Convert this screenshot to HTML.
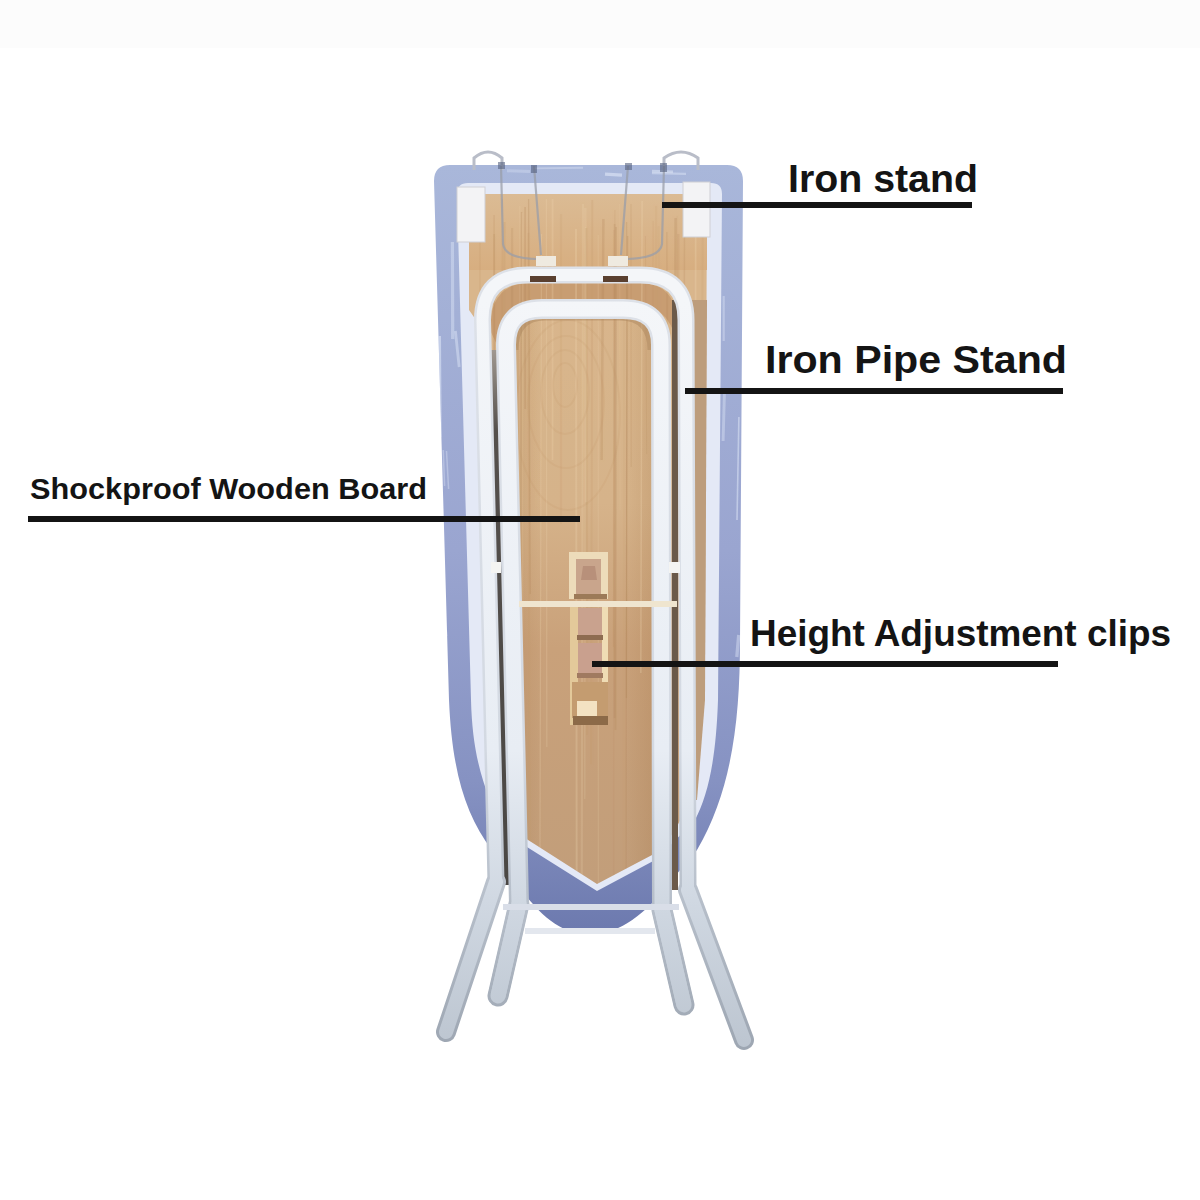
<!DOCTYPE html>
<html><head><meta charset="utf-8">
<style>
html,body{margin:0;padding:0;background:#fff;width:1200px;height:1200px;overflow:hidden}
svg{display:block}
text{font-family:"Liberation Sans",sans-serif;font-weight:bold;fill:#141414}
</style></head>
<body>
<svg width="1200" height="1200" viewBox="0 0 1200 1200">
<defs>
  <linearGradient id="woodG" gradientUnits="userSpaceOnUse" x1="0" y1="300" x2="0" y2="880">
    <stop offset="0" stop-color="#d9b68c"/>
    <stop offset="0.35" stop-color="#d6b38a"/>
    <stop offset="0.6" stop-color="#c9a17a"/>
    <stop offset="1" stop-color="#c29e7a"/>
  </linearGradient>
  <linearGradient id="woodEdge" x1="0" y1="0" x2="1" y2="0">
    <stop offset="0" stop-color="#9a6a3a" stop-opacity="0.18"/>
    <stop offset="0.2" stop-color="#9a6a3a" stop-opacity="0"/>
    <stop offset="0.8" stop-color="#9a6a3a" stop-opacity="0"/>
    <stop offset="1" stop-color="#9a6a3a" stop-opacity="0.18"/>
  </linearGradient>
  <linearGradient id="woodTop" x1="0" y1="0" x2="0" y2="1">
    <stop offset="0" stop-color="#dbbb94"/>
    <stop offset="1" stop-color="#d7ae80"/>
  </linearGradient>
  <linearGradient id="pipeG" gradientUnits="userSpaceOnUse" x1="0" y1="300" x2="0" y2="1050">
    <stop offset="0" stop-color="#f4f6f9"/>
    <stop offset="0.6" stop-color="#e8edf4"/>
    <stop offset="0.8" stop-color="#d0d8e2"/>
    <stop offset="1" stop-color="#bcc5d0"/>
  </linearGradient>
  <linearGradient id="pipeEdge" gradientUnits="userSpaceOnUse" x1="0" y1="300" x2="0" y2="1050">
    <stop offset="0" stop-color="#dde1e8"/>
    <stop offset="0.6" stop-color="#d3d9e2"/>
    <stop offset="0.78" stop-color="#b9c1cc"/>
    <stop offset="1" stop-color="#9da6b2"/>
  </linearGradient>
  <linearGradient id="blueG" gradientUnits="userSpaceOnUse" x1="0" y1="165" x2="0" y2="935">
    <stop offset="0" stop-color="#a9b7da"/>
    <stop offset="0.5" stop-color="#9aa5d0"/>
    <stop offset="0.8" stop-color="#8692c2"/>
    <stop offset="1" stop-color="#6c79ae"/>
  </linearGradient>
  <linearGradient id="darkL" gradientUnits="userSpaceOnUse" x1="0" y1="350" x2="0" y2="885">
    <stop offset="0" stop-color="#a09890"/>
    <stop offset="0.15" stop-color="#55504c"/>
    <stop offset="1" stop-color="#4a4744"/>
  </linearGradient>
  <clipPath id="clipBlue"><path d="M434,181 Q434,165 450,165 L727,165 Q743,165 743,181 L740,640 C740,720 732,790 697,850 L665,888 C640,920 615,934 590,934 C565,934 545,922 520,888 L492,850 C465,815 452,770 449,700 Z"/></clipPath>
  <clipPath id="clipWood"><path d="M469,194 L707,194 L705,660 C704,760 690,830 652,855 L597,884 L525,838 C510,820 500,800 497,760 L490,340 L469,310 Z"/></clipPath>
</defs>
<rect width="1200" height="1200" fill="#ffffff"/>
<rect x="0" y="0" width="1200" height="48" fill="#fcfcfc"/>

<!-- blue fabric -->
<path d="M434,181 Q434,165 450,165 L727,165 Q743,165 743,181 L740,640 C740,720 732,790 697,850 L665,888 C640,920 615,934 590,934 C565,934 545,922 520,888 L492,850 C465,815 452,770 449,700 Z" fill="url(#blueG)"/>
<g id="streaks" clip-path="url(#clipBlue)"><path d="M724.5,390 L723.1,441" stroke="#dde5f6" stroke-width="2.9" opacity="0.43"/><path d="M605,174.1 L622,175.1" stroke="#dde5f6" stroke-width="3.1" opacity="0.64"/><path d="M439.5,336 L440.2,437" stroke="#dde5f6" stroke-width="3.0" opacity="0.59"/><path d="M652,171.1 L673,171.9" stroke="#dde5f6" stroke-width="2.6" opacity="0.55"/><path d="M443.0,600 L446.6,636" stroke="#dde5f6" stroke-width="2.0" opacity="0.31"/><path d="M452.4,242 L452.7,339" stroke="#dde5f6" stroke-width="3.2" opacity="0.46"/><path d="M738.9,417 L737.0,520" stroke="#dde5f6" stroke-width="1.6" opacity="0.55"/><path d="M455.4,331 L459.2,367" stroke="#dde5f6" stroke-width="2.8" opacity="0.49"/><path d="M443.2,450 L444.6,486" stroke="#dde5f6" stroke-width="1.5" opacity="0.39"/><path d="M438.3,453 L440.4,561" stroke="#dde5f6" stroke-width="2.0" opacity="0.46"/><path d="M652,173.2 L686,173.9" stroke="#dde5f6" stroke-width="2.3" opacity="0.48"/><path d="M507,170.8 L530,171.5" stroke="#dde5f6" stroke-width="3.0" opacity="0.35"/><path d="M738.7,635 L736.8,657" stroke="#dde5f6" stroke-width="3.3" opacity="0.45"/><path d="M439.5,621 L442.2,719" stroke="#dde5f6" stroke-width="2.1" opacity="0.38"/><path d="M723.7,296 L723.7,341" stroke="#dde5f6" stroke-width="2.2" opacity="0.42"/><path d="M533,168.4 L583,167.8" stroke="#dde5f6" stroke-width="1.9" opacity="0.42"/><path d="M446.5,451 L448.6,489" stroke="#dde5f6" stroke-width="1.5" opacity="0.39"/><path d="M440.6,493 L441.8,549" stroke="#dde5f6" stroke-width="2.8" opacity="0.33"/></g>
<!-- white rim -->
<path d="M457,194 Q457,183 468,183 L711,183 Q722,183 722,194 L718,700 C716,760 708,795 695,820 L657,859 L597,891 L519,842 L490,800 C478,770 472,740 471,700 Z" fill="#e4e9f6"/>
<!-- wood board -->
<path d="M469,194 L707,194 L705,660 C704,760 690,830 652,855 L597,884 L525,838 C510,820 500,800 497,760 L490,340 L469,310 Z" fill="url(#woodG)"/>
<rect x="515" y="300" width="137" height="600" fill="url(#woodEdge)" clip-path="url(#clipWood)"/>
<!-- top wood lighter -->
<rect x="469" y="194" width="238" height="76" fill="url(#woodTop)"/>
<!-- darker wood strip between pipes at top -->
<path d="M490,330 Q490,283 530,283 L640,283 Q678,283 678,330 L678,345 Q668,300 623,300 L541,300 Q498,300 497,345 Z" fill="#c89d72"/>

<g id="grain" clip-path="url(#clipWood)"><path d="M546.4,199 L546.8,747" stroke="#f0d8b4" stroke-width="1.2" opacity="0.22"/><path d="M684.7,213 L682.9,569" stroke="#a87c50" stroke-width="1.3" opacity="0.12"/><path d="M603.4,219 L601.6,460" stroke="#a87c50" stroke-width="2.5" opacity="0.21"/><path d="M522.2,213 L522.4,764" stroke="#f0d8b4" stroke-width="1.9" opacity="0.12"/><path d="M631.0,204 L631.2,467" stroke="#b5875a" stroke-width="1.2" opacity="0.20"/><path d="M616.1,227 L615.5,730" stroke="#a87c50" stroke-width="1.8" opacity="0.20"/><path d="M528.6,199 L530.1,594" stroke="#a87c50" stroke-width="1.3" opacity="0.24"/><path d="M642.1,201 L640.8,673" stroke="#f0d8b4" stroke-width="1.5" opacity="0.28"/><path d="M585.4,227 L584.8,799" stroke="#f0d8b4" stroke-width="1.1" opacity="0.22"/><path d="M552.6,199 L552.5,460" stroke="#f0d8b4" stroke-width="1.8" opacity="0.24"/><path d="M626.7,222 L625.9,1067" stroke="#a87c50" stroke-width="1.1" opacity="0.23"/><path d="M561.0,214 L561.0,524" stroke="#b5875a" stroke-width="2.1" opacity="0.10"/><path d="M521.5,212 L519.8,1008" stroke="#a87c50" stroke-width="1.5" opacity="0.23"/><path d="M576.0,229 L576.8,990" stroke="#f0d8b4" stroke-width="1.9" opacity="0.26"/><path d="M702.8,205 L701.7,459" stroke="#c39a6c" stroke-width="2.1" opacity="0.17"/><path d="M525.1,207 L525.2,409" stroke="#a87c50" stroke-width="1.8" opacity="0.21"/><path d="M613.9,230 L613.7,1048" stroke="#b5875a" stroke-width="1.5" opacity="0.12"/><path d="M675.6,218 L674.0,677" stroke="#a87c50" stroke-width="2.5" opacity="0.22"/><path d="M619.7,204 L620.1,510" stroke="#f0d8b4" stroke-width="1.1" opacity="0.11"/><path d="M494.2,234 L495.7,833" stroke="#b5875a" stroke-width="1.9" opacity="0.20"/><path d="M614.9,210 L613.4,647" stroke="#b5875a" stroke-width="1.2" opacity="0.15"/><path d="M585.2,208 L586.1,502" stroke="#f0d8b4" stroke-width="2.6" opacity="0.19"/><path d="M583.0,204 L581.5,1023" stroke="#f0d8b4" stroke-width="2.1" opacity="0.19"/><path d="M598.2,235 L598.3,996" stroke="#f0d8b4" stroke-width="1.0" opacity="0.20"/><path d="M684.3,218 L684.8,744" stroke="#c39a6c" stroke-width="1.6" opacity="0.14"/><path d="M656.1,206 L654.9,666" stroke="#c39a6c" stroke-width="2.2" opacity="0.14"/><path d="M586.3,228 L587.1,735" stroke="#c39a6c" stroke-width="2.2" opacity="0.28"/><path d="M695.7,236 L694.1,1056" stroke="#f0d8b4" stroke-width="1.7" opacity="0.27"/><path d="M494.1,215 L494.0,1056" stroke="#b5875a" stroke-width="1.8" opacity="0.16"/><path d="M624.1,222 L624.0,1014" stroke="#c39a6c" stroke-width="2.3" opacity="0.12"/><path d="M512.1,228 L512.0,1060" stroke="#a87c50" stroke-width="2.3" opacity="0.16"/><path d="M645.4,236 L646.7,454" stroke="#a87c50" stroke-width="1.1" opacity="0.13"/><path d="M504.5,222 L502.6,650" stroke="#c39a6c" stroke-width="2.3" opacity="0.28"/><path d="M658.6,226 L660.0,516" stroke="#c39a6c" stroke-width="2.2" opacity="0.12"/><path d="M519.8,206 L520.0,787" stroke="#f0d8b4" stroke-width="1.4" opacity="0.15"/><path d="M666.9,232 L668.2,863" stroke="#a87c50" stroke-width="1.1" opacity="0.23"/><path d="M677.2,216 L677.7,984" stroke="#c39a6c" stroke-width="1.2" opacity="0.13"/><path d="M653.1,221 L652.4,499" stroke="#b5875a" stroke-width="1.2" opacity="0.13"/><path d="M592.3,200 L591.1,764" stroke="#c39a6c" stroke-width="1.9" opacity="0.24"/><path d="M480.0,197 L479.7,978" stroke="#b5875a" stroke-width="1.2" opacity="0.18"/><path d="M614.6,224 L614.6,718" stroke="#a87c50" stroke-width="1.8" opacity="0.19"/><path d="M528.4,233 L529.8,1033" stroke="#c39a6c" stroke-width="1.8" opacity="0.26"/><path d="M502.4,199 L501.2,555" stroke="#b5875a" stroke-width="1.2" opacity="0.18"/><path d="M541.5,234 L540.0,852" stroke="#f0d8b4" stroke-width="1.2" opacity="0.24"/><path d="M678.3,234 L677.0,693" stroke="#a87c50" stroke-width="2.5" opacity="0.14"/><path d="M627.6,236 L626.4,698" stroke="#a87c50" stroke-width="1.4" opacity="0.23"/><g fill="none" stroke="#b8895a" opacity="0.12" stroke-width="2"><ellipse cx="565" cy="385" rx="12" ry="22"/><ellipse cx="565" cy="392" rx="24" ry="42"/><ellipse cx="566" cy="402" rx="38" ry="66"/><ellipse cx="568" cy="415" rx="52" ry="95"/></g></g>
<path d="M516,350 Q516,318 545,318 L620,318 Q650,318 650,350" fill="none" stroke="#a9825c" stroke-width="5" opacity="0.45"/>
<!-- hooks -->
<path d="M474,170 L474,158 Q488,146 502,158 L502,170" fill="none" stroke="#b9bdc8" stroke-width="3"/>
<path d="M664,170 L664,158 Q681,146 698,158 L698,170" fill="none" stroke="#b9bdc8" stroke-width="3"/>
<!-- hanging wires -->
<path d="M501,166 L503,244 Q505,259 540,259 M534,166 L541,255 M664,166 L662,244 Q660,259 622,259 M628,166 L621,255" fill="none" stroke="#9a9ea8" stroke-width="2.2" opacity="0.75"/>
<rect x="498" y="162" width="7" height="7" fill="#55607e" opacity="0.6"/>
<rect x="531" y="165" width="6" height="8" fill="#55607e" opacity="0.6"/>
<rect x="625" y="163" width="7" height="7" fill="#55607e" opacity="0.6"/>
<rect x="660" y="163" width="7" height="9" fill="#55607e" opacity="0.6"/>
<!-- hinge plates -->
<rect x="457" y="187" width="28" height="55" fill="#f3f3f5" stroke="#cfcfd4" stroke-width="1"/>
<rect x="683" y="182" width="27" height="55" fill="#f3f3f5" stroke="#cfcfd4" stroke-width="1"/>

<!-- left rim column (rim visible between blue and outer pipe) -->

<!-- dark gap lines -->
<path d="M494,350 L507,885" stroke="url(#darkL)" stroke-width="7"/>
<path d="M675,300 L675,890" stroke="#6b5a4a" stroke-width="6"/>
<!-- wood strip right of outer pipe -->
<path d="M692,300 L707,300 L705,700 L697,800 L692,800 Z" fill="#bd9d7c"/>

<!-- outer pipe -->
<path d="M446,1032 L496,882 L482.5,320 Q482.5,275 528,275 L640,275 Q686,275 686,320 L688,890 L744,1040" fill="none" stroke="url(#pipeEdge)" stroke-width="17" stroke-linejoin="round"/>
<path d="M446,1032 L496,882 M688,890 L744,1040" fill="none" stroke="url(#pipeEdge)" stroke-width="20" stroke-linecap="round"/>
<path d="M446,1032 L496,882 L482.5,320 Q482.5,275 528,275 L640,275 Q686,275 686,320 L688,890 L744,1040" fill="none" stroke="url(#pipeG)" stroke-width="12" stroke-linejoin="round"/>
<path d="M446,1032 L496,882 M688,890 L744,1040" fill="none" stroke="url(#pipeG)" stroke-width="14" stroke-linecap="round"/>
<!-- clips on outer pipe top -->
<rect x="530" y="276" width="26" height="6" fill="#5a4030"/>
<rect x="603" y="276" width="25" height="6" fill="#5a4030"/>
<rect x="536" y="256" width="20" height="10" fill="#efeae0"/>
<rect x="608" y="256" width="20" height="10" fill="#efeae0"/>
<!-- inner pipe -->
<path d="M498,996 L519,904 L506,345 Q506,309 542,309 L623,309 Q661,309 661,345 L662,910 L684,1005" fill="none" stroke="url(#pipeEdge)" stroke-width="20" stroke-linejoin="round"/>
<path d="M498,996 L519,904 M662,910 L684,1005" fill="none" stroke="url(#pipeEdge)" stroke-width="21" stroke-linecap="round"/>
<path d="M498,996 L519,904 L506,345 Q506,309 542,309 L623,309 Q661,309 661,345 L662,910 L684,1005" fill="none" stroke="url(#pipeG)" stroke-width="15" stroke-linejoin="round"/>
<path d="M498,996 L519,904 M662,910 L684,1005" fill="none" stroke="url(#pipeG)" stroke-width="15" stroke-linecap="round"/>

<rect x="491" y="562" width="10" height="11" fill="#f4f4f2"/>
<rect x="669" y="562" width="11" height="11" fill="#f4f4f2"/>
<!-- clips -->
<rect x="569" y="552" width="39" height="47" fill="#eddcba"/>
<rect x="576" y="559" width="25" height="37" fill="#c9a58c"/>
<path d="M583,566 L595,566 L597,580 L581,580 Z" fill="#b8907a"/>
<rect x="574" y="594" width="33" height="5" fill="#9c7a58"/>
<rect x="570" y="607" width="8" height="118" fill="#e3c99a"/>
<rect x="602" y="607" width="6" height="75" fill="#efdcb4"/>
<rect x="578" y="608" width="24" height="28" fill="#c9a28e"/>
<rect x="577" y="635" width="26" height="5" fill="#8e6c50"/>
<rect x="578" y="643" width="24" height="34" fill="#c9a08e"/>
<rect x="577" y="673" width="26" height="5" fill="#a07a60"/>
<rect x="572" y="682" width="36" height="36" fill="#c49c70"/>
<rect x="577" y="701" width="20" height="15" fill="#f3e2c2"/>
<rect x="573" y="716" width="35" height="9" fill="#8c6a48"/>
<rect x="519" y="601" width="158" height="6" fill="#efe5cf"/>

<!-- horizontal bars -->
<rect x="503" y="904" width="176" height="6" fill="#d9dee8"/>
<rect x="525" y="928" width="130" height="6" fill="#e3e7ee"/>

<!-- labels -->
<text x="788" y="192" font-size="39" textLength="190" lengthAdjust="spacingAndGlyphs">Iron stand</text>
<rect x="662" y="202" width="310" height="6" fill="#141414"/>
<text x="765" y="373" font-size="38" textLength="302" lengthAdjust="spacingAndGlyphs">Iron Pipe Stand</text>
<rect x="685" y="388" width="378" height="6" fill="#141414"/>
<text x="30" y="499" font-size="30" textLength="397" lengthAdjust="spacingAndGlyphs">Shockproof Wooden Board</text>
<rect x="28" y="516" width="552" height="6" fill="#141414"/>
<text x="750" y="646" font-size="36" textLength="421" lengthAdjust="spacingAndGlyphs">Height Adjustment clips</text>
<rect x="592" y="661" width="466" height="6" fill="#141414"/>
</svg>
</body></html>
